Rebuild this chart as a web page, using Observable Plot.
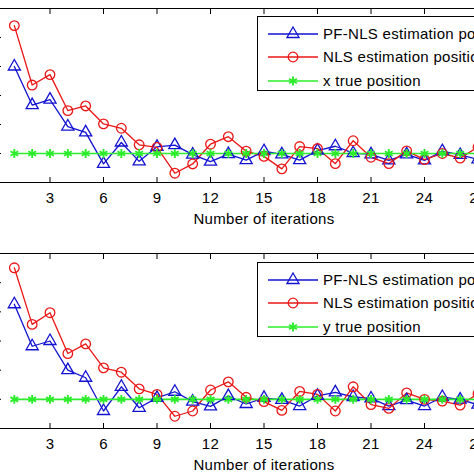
<!DOCTYPE html>
<html><head><meta charset="utf-8">
<script src="https://cdn.jsdelivr.net/npm/d3@7"></script>
<script src="https://cdn.jsdelivr.net/npm/@observablehq/plot@0.6"></script>
<style>
body{margin:0;background:#fff;}
#wrap{position:relative;width:474px;height:474px;overflow:hidden;background:#fff;font-family:"Liberation Sans",Arial,sans-serif;}
.panel{position:absolute;left:-30px;max-width:none !important;}
.legend{position:absolute;left:257px;width:260px;height:75px;border:1px solid #000;background:#fff;box-sizing:border-box;}
.row{position:absolute;left:0;height:22px;display:flex;align-items:center;font-size:15px;letter-spacing:0.3px;white-space:nowrap;color:#000;}
.row svg{display:block;margin-right:5px;margin-left:10px;}
</style></head><body><div id="wrap"></div>
<script>
// ---- data (y in axis units) ----
const iterations = [1,2,3,4,5,6,7,8,9,10,11,12,13,14,15,16,17,18,19,20,21,22,23,24,25,26,27];
const xTicks = [3,6,9,12,15,18,21,24,27];
const yTicks = [0,1,2,3,4,5,6];
const seriesNames = ["PF-NLS estimation position","NLS estimation position"];
const trueNames = ["x true position","y true position"];
const xLabel = "Number of iterations";

const xPfNls = [4.00,2.67,2.86,1.93,1.73,0.64,1.38,0.73,1.23,1.29,0.96,0.72,0.98,0.77,1.08,0.97,0.77,1.10,1.25,1.01,0.97,0.76,0.97,0.76,1.08,0.95,0.80];
const xNls   = [5.41,3.36,3.72,2.48,2.64,2.02,1.87,1.30,1.21,0.32,0.64,1.32,1.58,1.08,0.90,0.47,1.24,1.17,0.65,1.44,0.87,0.65,1.09,0.79,1.00,0.84,1.22];
const xTrue  = [1,1,1,1,1,1,1,1,1,1,1,1,1,1,1,1,1,1,1,1,1,1,1,1,1,1,1];

const yPfNls = [4.26,2.82,3.00,2.00,1.74,0.60,1.43,0.71,1.05,1.26,0.92,0.76,1.11,0.84,1.05,0.98,0.77,1.12,1.24,1.08,1.03,0.77,0.97,0.77,1.08,0.99,0.82];
const yNls   = [5.51,3.57,3.97,2.57,2.90,2.08,1.93,1.36,1.17,0.42,0.60,1.32,1.60,1.07,0.92,0.62,1.27,1.17,0.60,1.43,0.82,0.69,1.22,1.00,0.94,0.80,1.19];
const yTrue  = [1,1,1,1,1,1,1,1,1,1,1,1,1,1,1,1,1,1,1,1,1,1,1,1,1,1,1];

const colors = {pf:"#1212d2", nls:"#ea1616", tru:"#2cec2c"};
const symbols = {pf:"triangle", nls:"circle", tru:"asterisk"};
const radii = {pf:4.5, nls:4.8, tru:4.2};
const widths = {pf:1.3, nls:1.3, tru:1.9};
const lineWidths = {pf:1.3, nls:1.3, tru:1.6};

const wrap = document.getElementById("wrap");

function panel(pf, nls, tru, trueName, top, mt, mb, legendTop) {
  const rows = iterations.map((it,i)=>({it, pf:pf[i], nls:nls[i], tru:tru[i]}));
  const keys = ["pf","nls","tru"];
  const marks = [
    Plot.frame({stroke:"#000", strokeWidth:1}),
    Plot.axisX({ticks:xTicks, tickSize:-5, tickPadding:14.5, label:xLabel, labelAnchor:"center", labelOffset:41, labelArrow:"none"}),
    Plot.axisX({anchor:"top", ticks:xTicks, tickSize:-5, fill:"none", label:null}),
    Plot.axisY({anchor:"left", ticks:yTicks, tickSize:-5, fill:"none", label:null}),
    Plot.axisY({anchor:"right", ticks:yTicks, tickSize:-5, fill:"none", label:null})
  ];
  for (const k of keys) {
    marks.push(Plot.line(rows, {x:"it", y:k, stroke:colors[k], strokeWidth:lineWidths[k]}));
  }
  for (const k of keys) {
    marks.push(Plot.dot(rows, {x:"it", y:k, symbol:symbols[k], r:radii[k], stroke:colors[k], fill:"none", strokeWidth:widths[k]}));
  }
  const chart = Plot.plot({
    width:570, height:237,
    marginLeft:26, marginRight:9, marginTop:mt, marginBottom:mb,
    x:{domain:[0,30], label:null},
    y:{domain:[0,6], label:null},
    style:{fontSize:"15px", fontFamily:"'Liberation Sans', Arial, sans-serif", letterSpacing:"0.3px", color:"#000", background:"transparent", maxWidth:"none"},
    marks
  });
  chart.classList.add("panel");
  chart.style.maxWidth = "none";
  chart.style.top = top + "px";
  wrap.appendChild(chart);

  // legend
  const names = [seriesNames[0], seriesNames[1], trueName];
  const lg = document.createElement("div");
  lg.className = "legend";
  lg.style.top = legendTop + "px";
  const rowTops = [5.5, 28.5, 52.5];
  keys.forEach((k,i)=>{
    const r = document.createElement("div");
    r.className = "row";
    r.style.top = rowTops[i] + "px";
    const s = d3.create("svg").attr("width",50).attr("height",20);
    s.append("line").attr("x1",0).attr("x2",50).attr("y1",10).attr("y2",10).attr("stroke",colors[k]).attr("stroke-width",lineWidths[k]);
    const sym = {triangle:d3.symbolTriangle, circle:d3.symbolCircle, asterisk:d3.symbolAsterisk}[symbols[k]];
    s.append("path").attr("transform","translate(25,10)").attr("d", d3.symbol(sym, Math.PI*radii[k]*radii[k])())
      .attr("fill","none").attr("stroke",colors[k]).attr("stroke-width",widths[k]);
    r.appendChild(s.node());
    const t = document.createElement("span");
    t.textContent = names[i];
    r.appendChild(t);
    lg.appendChild(r);
  });
  wrap.appendChild(lg);
}

panel(xPfNls, xNls, xTrue, trueNames[0], 0, 8, 55, 16);
panel(yPfNls, yNls, yTrue, trueNames[1], 237, 16, 46, 262);
</script></body></html>
